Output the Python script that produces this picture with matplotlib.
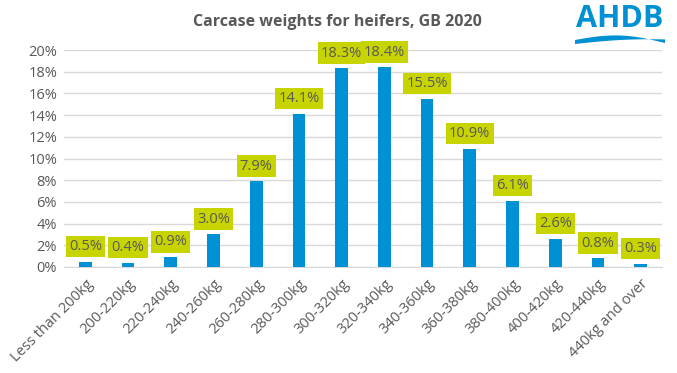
import matplotlib
matplotlib.use("Agg")
import matplotlib.pyplot as plt
import numpy as np
from matplotlib.patches import Polygon

categories = ["Less than 200kg", "200-220kg", "220-240kg", "240-260kg", "260-280kg",
              "280-300kg", "300-320kg", "320-340kg", "340-360kg", "360-380kg",
              "380-400kg", "400-420kg", "420-440kg", "440kg and over"]
values = [0.5, 0.4, 0.9, 3.0, 7.9, 14.1, 18.3, 18.4, 15.5, 10.9, 6.1, 2.6, 0.8, 0.3]
yticks = [0, 2, 4, 6, 8, 10, 12, 14, 16, 18, 20]
title = "Carcase weights for heifers, GB 2020"

plt.rcParams['font.family'] = ['Open Sans', 'DejaVu Sans']
W, H = 677, 373
fig = plt.figure(figsize=(W/100, H/100), dpi=100)
ax = fig.add_axes([64/W, 1-267/H, (662-64)/W, (267-50)/H])

grey = "#595959"
x = np.arange(len(categories))
ax.bar(x, values, width=0.3, color="#0090D4", zorder=3)
ax.set_xlim(-0.5, len(categories)-0.5)
ax.set_ylim(0, 20)
ax.set_yticks(yticks)
ax.set_yticklabels([f"{t}%" for t in yticks], fontsize=10.5, color=grey)
ax.set_xticks(x)
ax.set_xticklabels(categories, rotation=45, ha="right", rotation_mode="anchor",
                   fontsize=10.5, color=grey)
ax.tick_params(length=0, pad=5)
ax.tick_params(axis='x', pad=7)
ax.grid(axis='y', color="#D9D9D9", linewidth=1, zorder=0)
for s in ["top", "right", "left"]:
    ax.spines[s].set_visible(False)
ax.spines["bottom"].set_color("#D9D9D9")

for xi, v in zip(x, values):
    ax.annotate(f"{v:.1f}%", (xi, v), xytext=(0, 11), textcoords="offset points",
                ha="center", va="center", fontsize=10.5, color=grey,
                bbox=dict(boxstyle="square,pad=0.22", fc="#C8D400", ec="none"), zorder=4)

fig.text(337/W, 1-22/H, title, ha="center", va="center", fontsize=11.5,
         fontweight="bold", color=grey)

# AHDB logo
fig.text(620/W, 1-19/H, "AHDB", ha="center", va="center", fontsize=22,
         fontweight="bold", color="#0090D4", family="Open Sans")
t = np.linspace(0, 1, 50)
xs = 575 + 90*t
top = 40 - 6*np.sin(np.pi*t) + 3*t
bot = 44 - 2*np.sin(np.pi*t*0.9) - 4*t
pts = [(xx/W, 1-yy/H) for xx, yy in zip(xs, top)] + \
      [(xx/W, 1-yy/H) for xx, yy in zip(xs[::-1], bot[::-1])]
fig.patches.append(Polygon(pts, closed=True, transform=fig.transFigure,
                           fc="#0090D4", ec="none"))

fig.savefig("out.png", dpi=100)
